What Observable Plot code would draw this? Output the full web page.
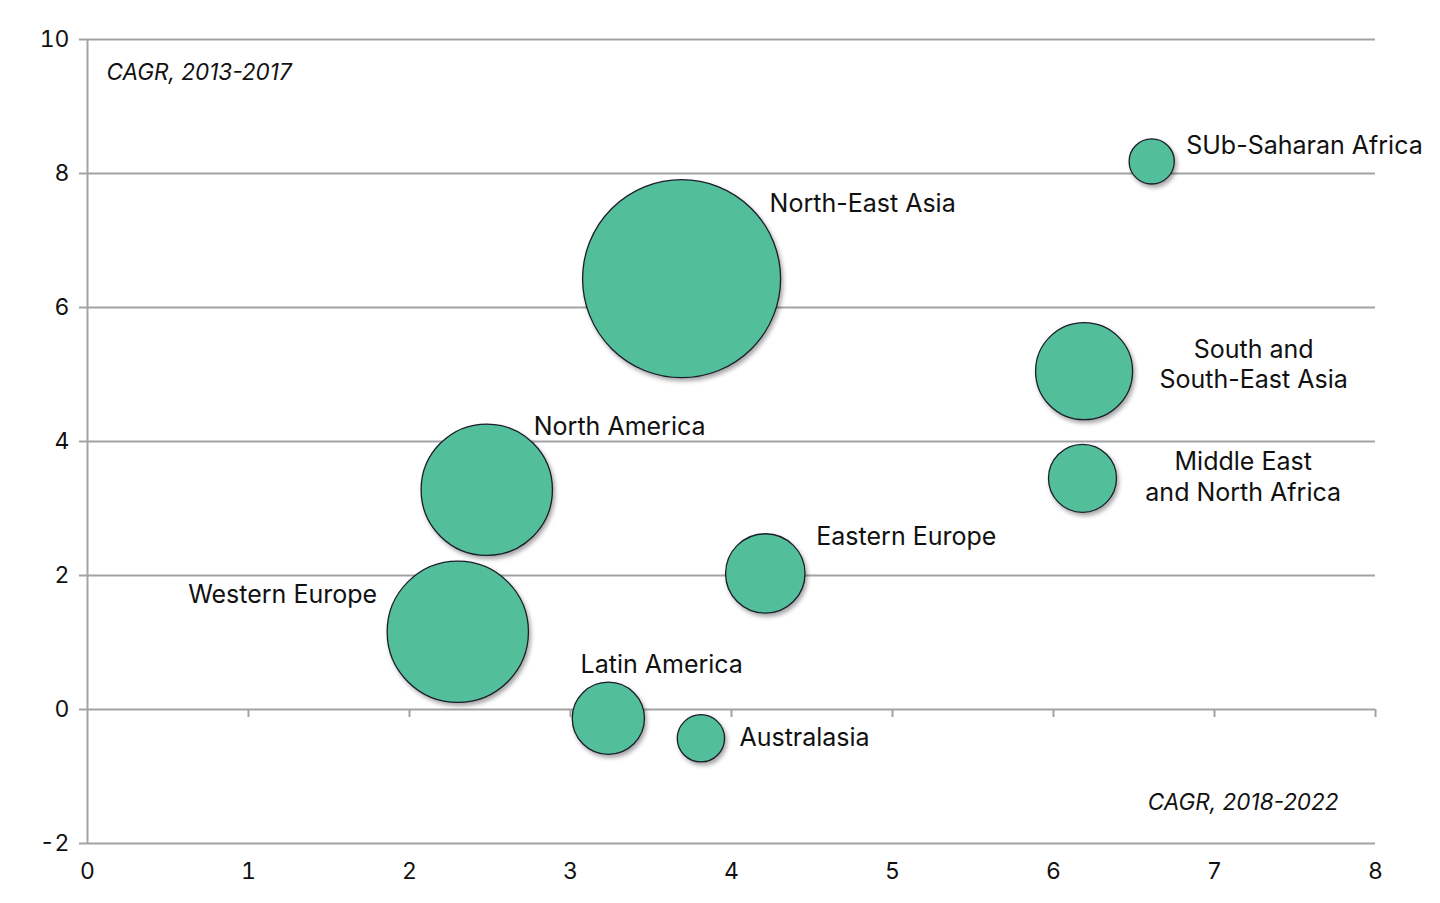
<!DOCTYPE html>
<html>
<head>
<meta charset="utf-8">
<script src="https://cdn.jsdelivr.net/npm/d3@7"></script>
<script src="https://cdn.jsdelivr.net/npm/@observablehq/plot@0.6"></script>
<style>
  html, body { margin: 0; padding: 0; background: #fff; }
  #chart svg { display: block; }
  #chart svg g[aria-label="dot"] circle { filter: drop-shadow(2px 3px 2px rgba(0,0,0,0.35)); }
</style>
</head>
<body>
<div id="chart"></div>
<script>
// Data
const regions = ["North-East Asia", "SUb-Saharan Africa", "South and\nSouth-East Asia", "Middle East\nand North Africa", "North America", "Eastern Europe", "Western Europe", "Latin America", "Australasia"];
const cagr2018_2022 = [3.69, 6.61, 6.19, 6.18, 2.48, 4.21, 2.30, 3.235, 3.81];
const cagr2013_2017 = [6.43, 8.18, 5.05, 3.45, 3.28, 2.03, 1.16, -0.13, -0.43];
const marketSize = [100, 5.2, 24.0, 11.8, 44.0, 16.1, 50.9, 13.3, 5.7];
const xTicks = [0, 1, 2, 3, 4, 5, 6, 7, 8];
const yTicks = [-2, 0, 2, 4, 6, 8, 10];
const yAxisNote = "CAGR, 2013-2017";
const xAxisNote = "CAGR, 2018-2022";

// Label placement (pixel offsets from bubble centre)
const labelDx = [88, 34.5, 169.5, 160.7, 47, 51, -80.7, -27.8, 38.5];
const labelDy = [-76, -17.4, -8, -2.7, -64.8, -38, -39, -55, -2.3];
const labelAnchor = ["start", "start", "middle", "middle", "start", "start", "end", "start", "start"];

const data = regions.map((r, i) => ({
  region: r, x: cagr2018_2022[i], y: cagr2013_2017[i], size: marketSize[i],
  dx: labelDx[i], dy: labelDy[i], anchor: labelAnchor[i]
}));

const grid = "#a3a3a3";
const font = "Inter, 'Noto Sans', sans-serif";
const fmt = d => String(d);

// Per-label offsets need individual marks since dx/dy are constants
const labels = data.map(d =>
  Plot.text([d], {
    x: "x", y: "y", text: "region", textAnchor: d.anchor, lineAnchor: "middle",
    lineHeight: 1.22, fontSize: 25, fill: "#111", dx: d.dx, dy: d.dy
  })
);

const chart = Plot.plot({
  width: 1440,
  height: 903,
  marginLeft: 87,
  marginRight: 65,
  marginTop: 39,
  marginBottom: 60,
  style: { fontFamily: font, background: "#fff", overflow: "visible" },
  x: { domain: [0, 8] },
  y: { domain: [-2, 10] },
  r: { domain: [0, 100], range: [0, 99] },
  marks: [
    Plot.gridY(yTicks, { stroke: grid, strokeOpacity: 1, strokeWidth: 2 }),
    Plot.ruleX([0], { stroke: grid, strokeWidth: 2 }),
    Plot.ruleX(xTicks.filter(d => d > 0), { x: d => d, y1: 0, y2: 0, insetBottom: -8, stroke: grid, strokeWidth: 2 }),
    Plot.axisY(yTicks, { tickSize: 8, tickPadding: 10, stroke: grid, strokeWidth: 2, fill: "#111", fontSize: 23, label: null, tickFormat: fmt }),
    Plot.axisX(xTicks, { tickSize: 0, tickPadding: 19, fill: "#111", fontSize: 23, label: null, tickFormat: fmt }),
    Plot.text([yAxisNote], { frameAnchor: "top-left", dx: 19, dy: 33, textAnchor: "start", lineAnchor: "middle", fontSize: 22.5, fontStyle: "italic", fill: "#111" }),
    Plot.text([xAxisNote], { frameAnchor: "bottom-right", dx: -37, dy: -41, textAnchor: "end", lineAnchor: "middle", fontSize: 22.5, fontStyle: "italic", fill: "#111" }),
    Plot.dot(data, { x: "x", y: "y", r: "size", fill: "#52bf9a", fillOpacity: 1, stroke: "#1c1c2c", strokeWidth: 1.3 }),
    ...labels
  ]
});

document.getElementById("chart").appendChild(chart);
</script>
</body>
</html>
